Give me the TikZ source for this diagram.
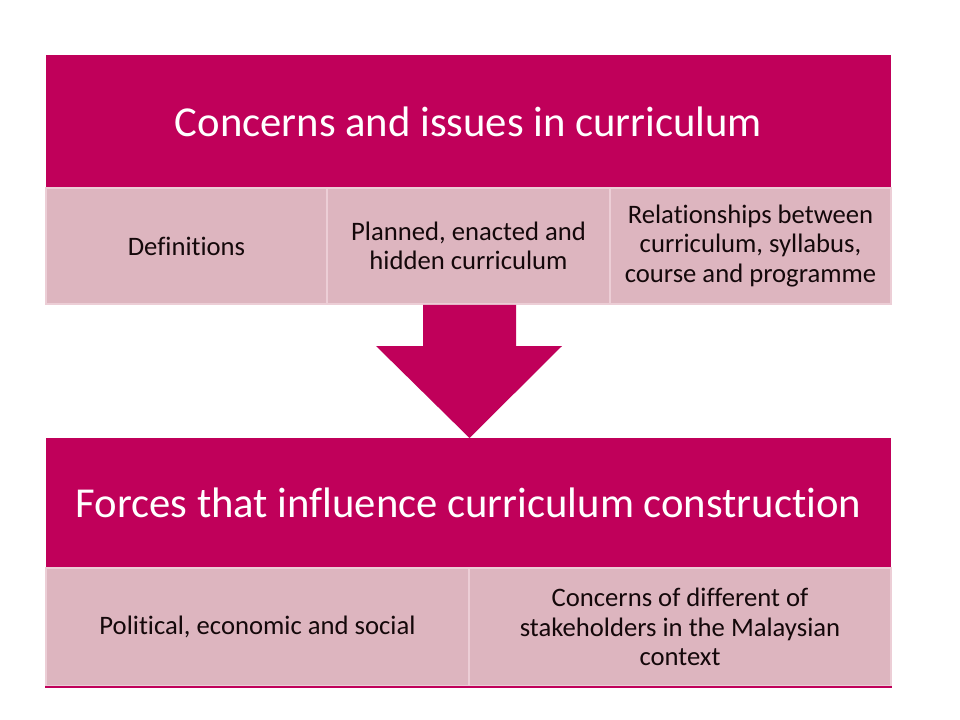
\documentclass[tikz,border=0pt]{standalone}
\usepackage{fontspec}
\setmainfont{Carlito}[Ligatures=NoCommon]
\definecolor{mag}{RGB}{192,0,90}
\definecolor{lpink}{RGB}{221,181,191}
\definecolor{lborder}{RGB}{236,206,214}
\definecolor{subtext}{RGB}{20,8,10}
\begin{document}
\begin{tikzpicture}[x=0.75pt,y=-0.75pt,
  bar/.style={rectangle,fill=mag,draw=none,inner sep=0pt,text=white,align=center},
  sub/.style={rectangle,fill=lpink,draw=lborder,line width=1.2pt,inner sep=0pt,text=subtext,align=center,font=\fontsize{20}{22.2}\selectfont},
]
\useasboundingbox (0,0) rectangle (960,720);
\fill[white] (0,0) rectangle (960,720);
% top bar
\node[bar,minimum width=633.75pt,minimum height=99.75pt,font=\fontsize{32}{38}\selectfont] (top) at (468.5,121.5) {Concerns and issues in curriculum};
\node[sub,minimum width=210.75pt,minimum height=87pt] (t1) at (186.5,246) {Definitions};
\node[sub,minimum width=212.25pt,minimum height=87pt] (t2) at (468.5,246) {Planned, enacted and\\hidden curriculum};
\node[sub,minimum width=210.75pt,minimum height=87pt] (t3) at (750.5,246) {Relationships between\\curriculum, syllabus,\\course and programme};
% arrow
\coordinate (a1) at (423,305);
\coordinate (a2) at (516,305);
\coordinate (a3) at (516,346);
\coordinate (a4) at (562,346);
\coordinate (tip) at (469.5,438);
\coordinate (a6) at (376,346);
\coordinate (a7) at (423,346);
% bottom bar
\node[bar,minimum width=633.75pt,minimum height=97.5pt,font=\fontsize{32}{38}\selectfont] (bot) at (468.5,503) {Forces that influence curriculum construction};
\node[sub,minimum width=317.25pt,minimum height=88.5pt] (b1) at (257.5,627) {Political, economic and social};
\node[sub,minimum width=316.5pt,minimum height=88.5pt] (b2) at (680,627) {Concerns of different of\\stakeholders in the Malaysian\\context};
\draw[mag,line width=1.5pt] (b1.south west) -- (b2.south east);
\fill[mag] (a1) -- (a2) -- (a3) -- (a4) -- (tip) -- (a6) -- (a7) -- cycle;
\end{tikzpicture}
\end{document}
